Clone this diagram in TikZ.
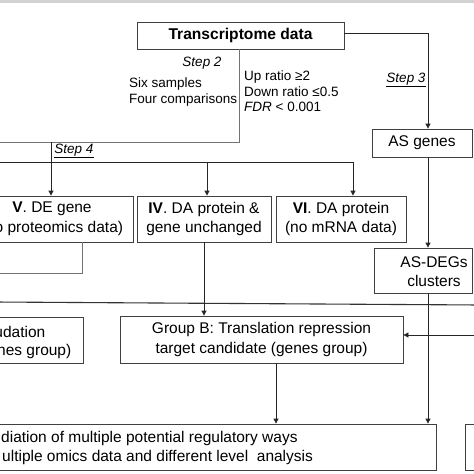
\documentclass[tikz,border=0pt]{standalone}
\usepackage{fontspec}
\setmainfont{Liberation Sans}
\usetikzlibrary{arrows.meta}
\begin{document}
\begin{tikzpicture}[x=1pt,y=-1pt,
  box/.style={draw=black!75, line width=0.8pt, inner sep=0pt, align=center, font=\fontsize{15.5}{19.5}\selectfont},
  btxt/.style={inner sep=0pt, align=center, font=\fontsize{15.5}{19.5}\selectfont},
  note/.style={inner sep=0pt, align=left, font=\fontsize{13.5}{15.5}\selectfont},
  ln/.style={draw=black!85, line width=0.8pt},
  lg/.style={draw=black!55, line width=0.8pt},
  sep/.style={draw=black!80, line width=1.1pt},
  arr/.style={ln, -{Triangle[length=5pt,width=5pt]}}]
\useasboundingbox (0,0) rectangle (474,474);
\clip (0,0) rectangle (474,474);
\fill[gray!35] (0,0) rectangle (474,2.5);

% boxes
\node[box, minimum width=207pt, minimum height=27pt, font=\fontsize{15.6}{19}\selectfont\bfseries] (T) at (240.5,35.5) {Transcriptome data};
\node[box, minimum width=100pt, minimum height=28pt] (ASg) at (422,143) {AS genes};
\node[box, minimum width=162pt, minimum height=46pt] (V) at (52,219) {\textbf{V}. DE gene\\(no proteomics data)};
\node[box, minimum width=134pt, minimum height=46pt] (IV) at (204,219) {\textbf{IV}. DA protein \&\\gene unchanged};
\node[box, minimum width=130pt, minimum height=46pt] (VI) at (341,219) {\textbf{VI}. DA protein\\(no mRNA data)};
\node[box, minimum width=98pt, minimum height=45pt] (ASD) at (423,270.5) {};
\node[btxt] (ASDt) at (434,271.5) {AS-DEGs\\clusters};
\node[box, minimum width=237pt, minimum height=46pt] (GA) at (-35.5,340) {};
\node[btxt, anchor=east] (GA1) at (45.5,332) {udation};
\node[btxt, anchor=east] (GA2) at (71.5,351) {nes group)};
\node[box, minimum width=283pt, minimum height=47pt] (GB) at (261.5,339.5) {Group B: Translation repression\\target candidate (genes group)};
\node[box, minimum width=636pt, minimum height=46pt] (BB) at (118,447) {};
\node[btxt, anchor=west] (BB1) at (1,438) {diation of multiple potential regulatory ways};
\node[btxt, anchor=west] (BB2) at (2,457) {ultiple omics data and different level\ \ analysis};
\node[box, minimum width=100pt, minimum height=46pt] (RB) at (515,447) {};

% notes
\node[note, font=\fontsize{13.5}{15.5}\selectfont\itshape] (s2) at (202,63) {Step 2};
\node[note, anchor=west, font=\fontsize{13.5}{16}\selectfont] (ss) at (129,92) {Six samples\\Four comparisons};
\node[note, anchor=west] (ur) at (244,91.5) {Up ratio ≥2\\Down ratio ≤0.5\\\textit{FDR} < 0.001};
\node[note, font=\fontsize{13.5}{15.5}\selectfont\itshape] (s3) at (406,80) {\underline{Step 3}};
\node[note, font=\fontsize{13.5}{15.5}\selectfont\itshape] (s4t) at (74,151) {\underline{Step 4}};

% connectors
\coordinate (j1) at (239,142);
\coordinate (l1) at (-5,142);
\draw[lg] ([xshift=-1.5pt]T.south) -- (j1) -- (l1);
\coordinate (s4) at (51,142);
\draw[arr] (s4) -- (s4 |- V.north);
\coordinate (h2l) at (-5,162);
\coordinate (h2r) at (353,162);
\coordinate (h2m) at (207,162);
\draw[arr] (h2l) -- (h2r) -- (h2r |- VI.north);
\draw[arr] (h2m) -- (h2m |- IV.north);
\coordinate (vb) at (82,273);
\coordinate (vbl) at (-5,273);
\draw[lg] (vb |- V.south) -- (vb) -- (vbl);
\coordinate (c3) at (428,33);
\draw[arr] ([yshift=2.5pt]T.east) -- (c3) -- (c3 |- ASg.north);
\coordinate (sepL) at (-5,302);
\coordinate (sepR) at (480,305);
\draw[sep] (sepL) -- (sepR);
\draw[arr] (IV.south) -- (IV.south |- GB.north);
\coordinate (a1) at (428,0);
\draw[arr] (a1 |- ASg.south) -- (a1 |- ASD.north);
\draw[arr] (a1 |- ASD.south) -- (a1 |- BB.north);
\coordinate (r1) at (480,335);
\draw[arr] (r1) -- (r1 -| GB.east);
\coordinate (b1) at (276,0);
\draw[arr] (b1 |- GB.south) -- (b1 |- BB.north);
\end{tikzpicture}
\end{document}
